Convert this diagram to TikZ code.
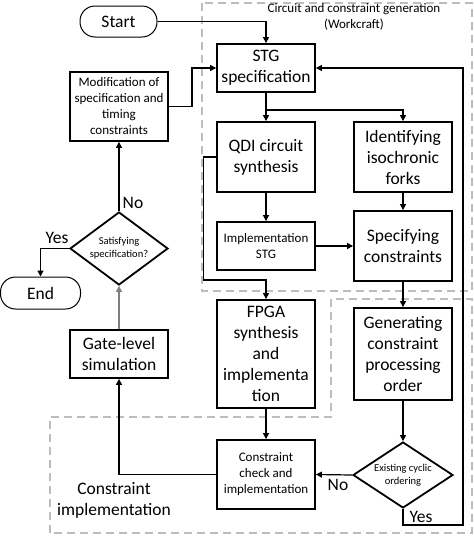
\documentclass[tikz,border=0pt]{standalone}
\usepackage{fontspec}
\setmainfont{Carlito}
\usetikzlibrary{arrows.meta,shapes.geometric}
\definecolor{dashgray}{HTML}{BDBDBD}
\tikzset{
  box/.style={draw=black, line width=1.8pt, minimum width=98pt, inner sep=0pt, align=center, font=\fontsize{17.5}{21}\selectfont},
  smallbox/.style={box, font=\fontsize{13}{16}\selectfont},
  term/.style={draw=black, line width=1pt, rounded corners=15pt, inner sep=0pt, font=\fontsize{17.5}{21}\selectfont},
  decision/.style={draw=black, line width=1.8pt, shape=diamond, inner sep=0pt, align=center, font=\fontsize{10.5}{13}\selectfont},
  conn/.style={line width=1.2pt, -{Triangle[length=6pt,width=6pt]}},
  plainconn/.style={line width=1.2pt},
  region/.style={draw=dashgray, line width=1.4pt, dash pattern=on 8pt off 5pt},
  lbl/.style={inner sep=0pt, font=\fontsize{17.5}{21}\selectfont},
  regionlbl/.style={inner sep=0pt, align=center, font=\fontsize{13}{16}\selectfont}
}
\begin{document}
\begin{tikzpicture}[x=1pt,y=-1pt]
\useasboundingbox (0,0) rectangle (474,536);
% dashed regions
\draw[region] (202,3) rectangle (472,291);
\draw[region] (50,533) -- (50,417) -- (331,417) -- (331,299) -- (472,299) -- (472,533) -- cycle;
\node[regionlbl] (titleA) at (354,17) {Circuit and constraint generation\\(Workcraft)};
\node[lbl, align=center] (cilbl) at (114,500) {Constraint\\implementation};

% nodes
\node[term, minimum width=77pt, minimum height=31pt] (start) at (118.5,21.5) {Start};
\node[term, minimum width=80pt, minimum height=32pt] (end) at (40.5,293) {End};
\node[box, minimum height=48pt] (stg) at (266,68) {STG\\specification};
\node[smallbox, minimum height=69pt] (mod) at (119,106.5) {Modification of\\specification and\\timing\\constraints};
\node[box, minimum height=70pt] (qdi) at (266,157) {QDI circuit\\synthesis};
\node[box, minimum height=70pt] (ident) at (403,157) {Identifying\\isochronic\\forks};
\node[smallbox, minimum height=48pt] (impl) at (266,246) {Implementation\\STG};
\node[box, minimum height=70pt] (spec) at (403,246) {Specifying\\constraints};
\node[box, minimum height=48pt] (gate) at (119,354) {Gate-level\\simulation};
\node[box, minimum height=108pt] (fpga) at (266,354) {FPGA\\synthesis\\and\\implementa\\tion};
\node[box, minimum height=92pt] (gen) at (403,354) {Generating\\constraint\\processing\\order};
\node[smallbox, minimum height=69pt] (check) at (266,474.5) {Constraint\\check and\\implementation};
\node[decision, minimum width=98pt, minimum height=73pt, aspect=1.34] (sat) at (119,248.5) {Satisfying\\specification?};
\node[decision, minimum width=100pt, minimum height=66pt, aspect=1.5] (cyc) at (403,475) {Existing cyclic\\ordering};

% helper coordinates
\coordinate (br) at (266,110);
\coordinate (yesturn) at (463,525);

% connectors
\draw[conn] (start.east) -| (stg.north);
\draw[conn] (mod.east) -- ++(23,0) |- (stg.west);
\draw[conn] (stg.south) -- (qdi.north);
\draw[conn] (br) -| (ident.north);
\draw[conn] (qdi.south) -- (impl.north);
\draw[conn] (qdi.west) -- ++(-13,0) |- (266,280) -- (fpga.north);
\draw[conn] (ident.south) -- (spec.north);
\draw[conn] (impl.east) -- (spec.west);
\draw[conn] (spec.south) -- (gen.north);
\draw[conn] (gen.south) -- (cyc.north);
\draw[conn] (cyc.west) -- (check.east);
\draw[conn] (cyc.south) |- (yesturn) |- (stg.east);
\draw[conn] (fpga.south) -- (check.north);
\draw[conn] (check.west) -| (gate.south);
\draw[conn, draw=gray] (gate.north) -- (sat.south);
\draw[conn] (sat.north) -- (mod.south);
\draw[conn] (sat.west) -| (end.north);

% labels
\node[lbl] (no1) at (133,203) {No};
\node[lbl] (yes1) at (57,238) {Yes};
\node[lbl] (no2) at (338,485) {No};
\node[lbl] (yes2) at (421,517) {Yes};
\end{tikzpicture}
\end{document}
